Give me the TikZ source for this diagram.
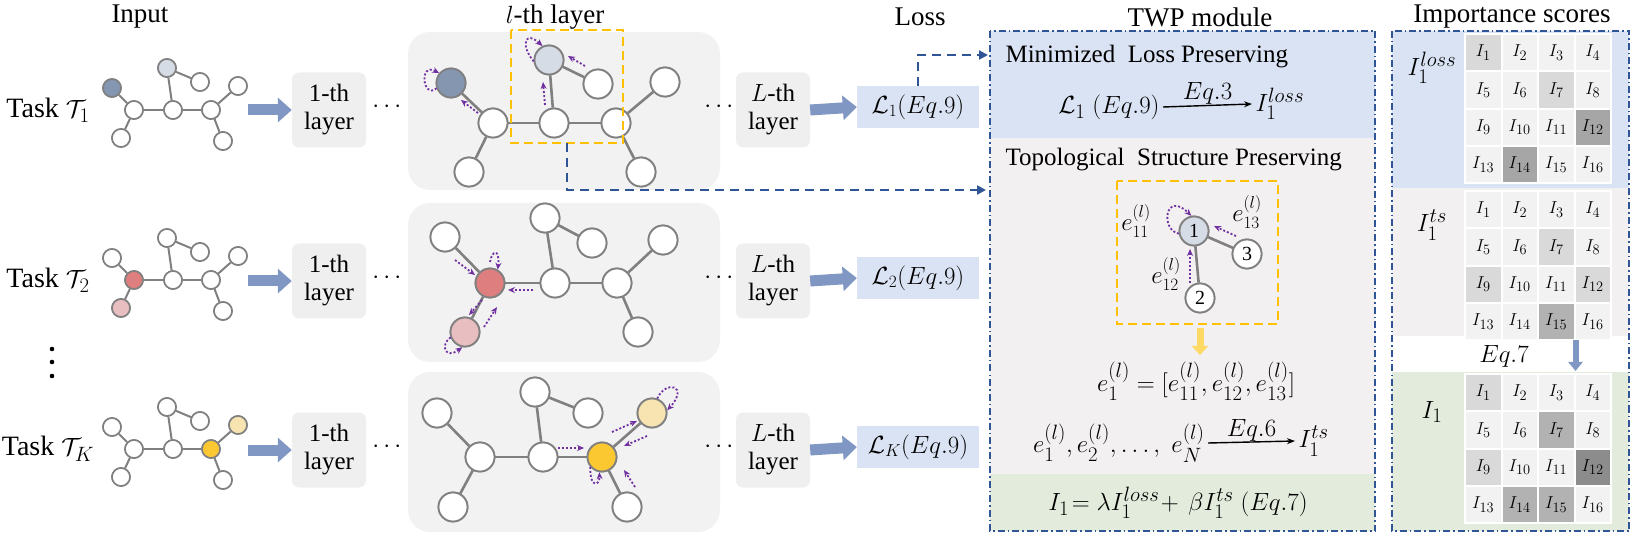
\documentclass[tikz,border=0pt]{standalone}
\usepackage{amsmath}
\usepackage{fontspec}
\setmainfont{Liberation Serif}
\usetikzlibrary{arrows.meta,calc}
\definecolor{bluearr}{HTML}{7F97C2}
\definecolor{lossbg}{HTML}{DAE3F3}
\definecolor{panel}{HTML}{F2F2F2}
\definecolor{laybox}{HTML}{EFEFEF}
\definecolor{dblue}{HTML}{2F5597}
\definecolor{ygold}{HTML}{FFC000}
\definecolor{purp}{HTML}{7030A0}
\definecolor{ngray}{HTML}{808080}
\definecolor{darkn}{HTML}{8496B0}
\definecolor{lightn}{HTML}{D6DCE5}
\definecolor{redn}{HTML}{DE7E7E}
\definecolor{pinkn}{HTML}{E8BEC1}
\definecolor{goldn}{HTML}{FCC832}
\definecolor{lyel}{HTML}{F8E4B0}
\definecolor{greenbg}{HTML}{E2EBDC}
\definecolor{twpgray}{HTML}{F2F0F0}
\definecolor{yarrow}{HTML}{FFD966}
\tikzset{
  sn/.style={circle,draw=ngray,line width=1.6pt,fill=white,minimum size=18pt,inner sep=0pt},
  bn/.style={circle,draw=ngray,line width=1.8pt,fill=white,minimum size=29pt,inner sep=0pt},
  se/.style={draw=ngray,line width=2pt},
  be/.style={draw=ngray,line width=2.6pt},
  pa/.style={draw=purp,line width=1.8pt,dash pattern=on 2pt off 2pt,-{Stealth[length=7pt,width=6pt]}},
  barr/.style={draw=bluearr,line width=11pt,-{Triangle[length=14pt,width=24pt]}},
  ttl/.style={font=\fontsize{27}{29}\selectfont},
  task/.style={font=\fontsize{28}{30}\selectfont},
  lay/.style={fill=laybox,rounded corners=7pt,minimum width=74pt,minimum height=75pt,align=center,font=\fontsize{25}{28}\selectfont,inner sep=0pt},
  lossb/.style={fill=lossbg,minimum width=122pt,minimum height=42pt,font=\fontsize{25}{26}\selectfont,inner sep=0pt},
  dots/.style={font=\fontsize{30}{30}\selectfont\bfseries},
  ddash/.style={draw=dblue,line width=2pt,dash pattern=on 9pt off 6pt,-{Triangle[length=9pt,width=9pt]}},
  dashdot/.style={draw=dblue,line width=1.6pt,dash pattern=on 7pt off 3pt on 1.5pt off 3pt},
  ybox/.style={draw=ygold,line width=2.6pt,dash pattern=on 9pt off 5pt},
  txt/.style={font=\fontsize{25}{27}\selectfont},
  mtxt/.style={font=\fontsize{28}{30}\selectfont},
  cell/.style={draw=white,line width=2pt,minimum width=36.5pt,minimum height=37.3pt,inner sep=0pt,font=\fontsize{19}{20}\selectfont},
}
\newcommand{\ingnodes}[8]{%
 \begin{scope}[shift={(0,#1)}]
  \node[sn,fill=#3] (#2a) at (112,88) {};
  \node[sn,fill=#4] (#2b) at (134,110) {};
  \node[sn] (#2c) at (173,110) {};
  \node[sn,fill=#5] (#2d) at (211,110) {};
  \node[sn,fill=#6] (#2e) at (167,68) {};
  \node[sn] (#2f) at (200,82) {};
  \node[sn,fill=#7] (#2g) at (238,86) {};
  \node[sn,fill=#8] (#2h) at (121,138) {};
  \node[sn] (#2i) at (223,141) {};
 \end{scope}}
\newcommand{\ingraph}[8]{%
 \ingnodes{#1}{#2}{#3}{#4}{#5}{#6}{#7}{#8}
 \foreach \u/\v in {a/b,b/c,c/d,c/e,e/f,d/g,b/h,d/i}{\draw[se] (#2\u)--(#2\v);}
 \ingnodes{#1}{#2}{#3}{#4}{#5}{#6}{#7}{#8}
}
\newcommand{\grid}[4]{%
 \foreach \s [count=\i] in {#4}{
   \pgfmathtruncatemacro{\cc}{mod(\i-1,4)}
   \pgfmathtruncatemacro{\rr}{(\i-1)/4}
   \node[cell,fill=black!\s] (#3\i) at ({#1+18.25+36.5*\cc},{#2+18.65+37.3*\rr}) {$I_{\i}$};
 }
}
\begin{document}
\begin{tikzpicture}[x=1pt,y=-1pt]
\useasboundingbox (0,0) rectangle (1630,534);
% titles
\node[ttl] (tin) at (140,17) {Input};
\node[ttl] (tlay) at (555,17) {$l$-th layer};
\node[ttl] (tloss) at (920,17) {Loss};
\node[ttl] (ttwp) at (1200,17) {TWP module};
\node[ttl] (timp) at (1512,17) {Importance scores};
% panels
\fill[panel,rounded corners=22pt] (408,32) rectangle (720,190);
\fill[panel,rounded corners=22pt] (408,203) rectangle (720,362);
\fill[panel,rounded corners=22pt] (408,372) rectangle (720,532);
% TWP sections
\fill[lossbg] (990,31) rectangle (1375,138);
\fill[twpgray] (990,138) rectangle (1375,474);
\fill[greenbg] (990,474) rectangle (1375,531);
\draw[dashdot] (990,31) rectangle (1375,531);
\fill[lossbg] (1392,31) rectangle (1629,188);
\fill[twpgray] (1392,188) rectangle (1629,336);
\fill[greenbg] (1392,372) rectangle (1629,531);
\draw[dashdot] (1392,31) rectangle (1629,531);
% task labels
\node[task] (k1) at (48,110) {Task $\mathcal{T}_1$};
\node[task] (k2) at (48,280) {Task $\mathcal{T}_2$};
\node[task] (kk) at (48,449) {Task $\mathcal{T}_K$};
\foreach \y in {349,362,376}{\fill (52,\y) circle (2.3pt);}
% input graphs
\ingraph{0}{p}{darkn}{white}{white}{lightn}{white}{white}
\ingraph{170}{q}{white}{redn}{white}{white}{white}{pinkn}
\ingraph{339}{r}{white}{white}{goldn}{white}{lyel}{white}
% layer boxes and arrows
\foreach \r/\y/\k in {1/107/1,2/278/2,3/447/K}{
  \node[lay] (f\r) at (329,\y+3) {1-th\\layer};
  \node[lay] (l\r) at (773,\y+3) {$L$-th\\layer};
  \node[lossb] (s\r) at (918,\y) {$\mathcal{L}_{\k}(Eq.9)$};
  \node[dots] (da\r) at (389,\y) {$\cdots$};
  \node[dots] (db\r) at (721,\y) {$\cdots$};
  \coordinate (ia\r) at (248,\y+3);
  \draw[barr] (ia\r) -- (f\r.west);
  \draw[barr] (l\r.east) -- (s\r.west);
}
% row1 big graph
\node[bn,fill=darkn] (dk) at (451,83) {};
\node[bn] (m1) at (493,123) {};
\node[bn] (m2) at (554,123) {};
\node[bn] (m3) at (616,123) {};
\node[bn,fill=lightn] (tp) at (549,60) {};
\node[bn] (tr) at (598,84) {};
\node[bn] (rr) at (665,82) {};
\node[bn] (bl) at (469,172) {};
\node[bn] (br) at (641,172) {};
\foreach \u/\v in {dk/m1,m1/m2,m2/m3,m2/tp,tp/tr,m3/rr,m1/bl,m3/br}{\draw[be] (\u)--(\v);}
\foreach \u/\f in {dk/darkn,m1/white,m2/white,m3/white,tp/lightn,tr/white,rr/white,bl/white,br/white}{\node[bn,fill=\f] at (\u) {};}
\draw[pa] (dk.200) .. controls (423,100) and (418,62) .. (dk.140);
\draw[pa] (478,113) -- (461,100);
\draw[pa] (tp.185) .. controls (520,45) and (525,30) .. (tp.115);
\draw[pa] (545,105) -- (543,82);
\draw[pa] (585,66) -- (568,56);
\draw[ybox] (511,30) rectangle (623,143);
% row2 big graph
\node[bn] (q1) at (445,237) {};
\node[bn] (rd) at (490,283) {};
\node[bn] (pk) at (465,332) {};
\node[bn] (q2) at (555,283) {};
\node[bn] (q3) at (617,283) {};
\node[bn] (q4) at (638,332) {};
\node[bn] (q5) at (545,218) {};
\node[bn] (q6) at (592,243) {};
\node[bn] (q7) at (663,240) {};
\foreach \u/\v in {q1/rd,rd/q2,q2/q3,q2/q5,q5/q6,q3/q7,rd/pk,q3/q4}{\draw[be] (\u)--(\v);}
\foreach \u/\f in {q1/white,rd/redn,pk/pinkn,q2/white,q3/white,q4/white,q5/white,q6/white,q7/white}{\node[bn,fill=\f] at (\u) {};}
\draw[pa] (455,260) -- (475,275);
\draw[pa] (490,262) .. controls (492,250) and (500,248) .. (rd.60);
\draw[pa] (533,290) -- (508,290);
\draw[pa] (482,300) -- (469,315);
\draw[pa] (484,327) -- (497,307);
\draw[pa] (pk.200) .. controls (440,345) and (445,360) .. (pk.260);
% row3 big graph
\node[bn] (r1) at (437,413) {};
\node[bn] (r2) at (480,457) {};
\node[bn] (r3) at (543,457) {};
\node[bn] (gd) at (602,457) {};
\node[bn] (ly) at (652,413) {};
\node[bn] (r4) at (535,392) {};
\node[bn] (r5) at (588,413) {};
\node[bn] (r6) at (453,507) {};
\node[bn] (r7) at (627,507) {};
\foreach \u/\v in {r1/r2,r2/r3,r3/gd,r3/r4,r4/r5,gd/ly,r2/r6,gd/r7}{\draw[be] (\u)--(\v);}
\foreach \u/\f in {r1/white,r2/white,r3/white,gd/goldn,ly/lyel,r4/white,r5/white,r6/white,r7/white}{\node[bn,fill=\f] at (\u) {};}
\draw[pa] (558,448) -- (584,448);
\draw[pa] (612,432) -- (637,421);
\draw[pa] (647,436) -- (624,446);
\draw[pa] (ly.70) .. controls (665,380) and (690,385) .. (ly.10);
\draw[pa] (gd.220) .. controls (590,490) and (600,485) .. (gd.260);
\draw[pa] (635,487) -- (624,470);
% blue dashed connectors
\coordinate (c1a) at (918,55);
\coordinate (c1b) at (988,55);
\draw[ddash] (s1.north -| c1a) -- (c1a) -- (c1b);
\coordinate (c2a) at (567,143);
\coordinate (c2b) at (567,190);
\coordinate (c2c) at (986,190);
\draw[ddash] (c2a) -- (c2b) -- (c2c);
% TWP content
\node[txt,anchor=west] (mlp) at (1002,57) {Minimized\ \ Loss Preserving};
\node[mtxt,anchor=east] (eqa) at (1163,107) {$\mathcal{L}_1\ (Eq.9)$};
\node[mtxt,anchor=west] (eqb) at (1252,104) {$I_1^{loss}$};
\draw[line width=1.4pt,-{Stealth[length=8pt]}] (eqa.east) -- (eqb.west) node[midway,above=-3pt,mtxt] {$Eq.3$};
\node[txt,anchor=west] (tsp) at (1002,160) {Topological\ \ Structure Preserving};
\draw[ybox] (1117,181) rectangle (1278,324);
\node[bn,fill=lightn,font=\fontsize{20}{20}\selectfont] (o1) at (1194,231) {1};
\node[bn,font=\fontsize{20}{20}\selectfont] (o3) at (1247,254) {3};
\node[bn,font=\fontsize{20}{20}\selectfont] (o2) at (1200,298) {2};
\draw[be] (o1) -- (o3);
\draw[be] (o1) -- (o2);
\node[bn,fill=lightn,font=\fontsize{20}{20}\selectfont] at (o1) {1};
\node[bn,font=\fontsize{20}{20}\selectfont] at (o3) {3};
\node[bn,font=\fontsize{20}{20}\selectfont] at (o2) {2};
\draw[pa] (o1.190) .. controls (1160,230) and (1165,190) .. (o1.100);
\draw[pa] (1236,236) -- (1214,226);
\draw[pa] (1190,283) -- (1190,249);
\node[txt] (e11) at (1136,221) {$e_{11}^{(l)}$};
\node[txt] (e13) at (1247,212) {$e_{13}^{(l)}$};
\node[txt] (e12) at (1166,274) {$e_{12}^{(l)}$};
\draw[draw=yarrow,line width=7pt,-{Triangle[length=9pt,width=16pt]}] (1200,328) -- (1200,355);
\node[mtxt] (eeq) at (1196,381) {$e_1^{(l)} = [e_{11}^{(l)}, e_{12}^{(l)}, e_{13}^{(l)}]$};
\node[mtxt,anchor=east] (el) at (1208,443) {$e_1^{(l)}, e_2^{(l)},\ldots,\ e_N^{(l)}$};
\node[mtxt,anchor=west] (its) at (1295,441) {$I_1^{ts}$};
\draw[line width=1.4pt,-{Stealth[length=8pt]}] (el.east) -- (its.west) node[midway,above=-3pt,mtxt] {$Eq.6$};
\node[mtxt] (ieq) at (1178,503) {$I_1\!= \lambda I_1^{loss}\!+\, \beta I_1^{ts}\ (Eq.7)$};
% importance scores
\node[font=\fontsize{30}{30}\selectfont] (il) at (1432,68) {$I_1^{loss}$};
\node[font=\fontsize{30}{30}\selectfont] (it) at (1432,225) {$I_1^{ts}$};
\node[font=\fontsize{30}{30}\selectfont] (ii) at (1432,412) {$I_1$};
\grid{1465}{34}{ga}{15,5,5,5,5,5,15,5,5,5,5,35,5,35,5,5}
\grid{1465}{191}{gb}{5,5,5,5,5,5,15,5,15,5,5,15,5,5,30,5}
\grid{1465}{374}{gc}{15,5,5,5,5,5,30,5,15,5,5,45,5,30,30,5}
\draw[draw=bluearr,line width=6pt,-{Triangle[length=9pt,width=14pt]}] (gb15.south east |- 0,340) -- (gb15.south east |- 0,371);
\node[mtxt] (e7) at (1504,356) {$Eq.7$};
\end{tikzpicture}
\end{document}
